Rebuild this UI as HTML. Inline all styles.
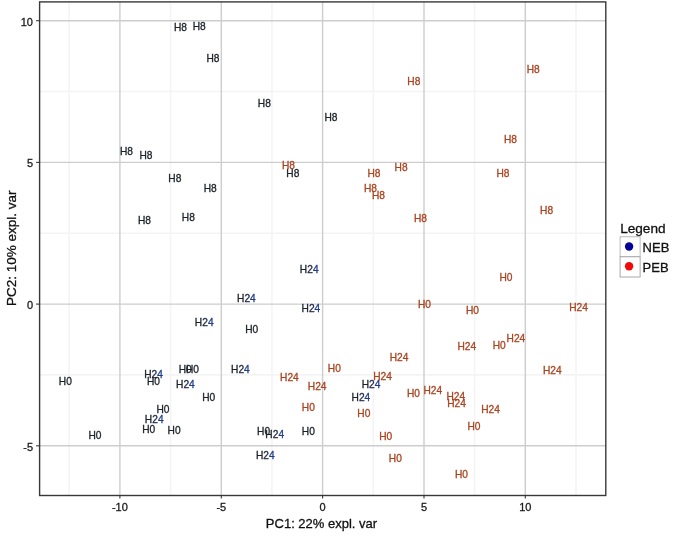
<!DOCTYPE html>
<html><head><meta charset="utf-8"><title>PCA</title>
<style>
html,body{margin:0;padding:0;background:#fff;}
svg{display:block;font-family:"Liberation Sans",Arial,sans-serif;}
</style></head><body>
<svg width="675" height="537" viewBox="0 0 675 537">
<rect width="675" height="537" fill="#fff"/>
<g stroke="#f4f4f4" stroke-width="1.6"><line x1="69.2" y1="1.9" x2="69.2" y2="495.5"/><line x1="170.6" y1="1.9" x2="170.6" y2="495.5"/><line x1="271.9" y1="1.9" x2="271.9" y2="495.5"/><line x1="373.3" y1="1.9" x2="373.3" y2="495.5"/><line x1="474.6" y1="1.9" x2="474.6" y2="495.5"/><line x1="576.0" y1="1.9" x2="576.0" y2="495.5"/><line x1="39.6" y1="374.9" x2="605.8" y2="374.9"/><line x1="39.6" y1="233.2" x2="605.8" y2="233.2"/><line x1="39.6" y1="91.5" x2="605.8" y2="91.5"/></g>
<g stroke="#cdcdcd" stroke-width="1.4"><line x1="119.9" y1="1.9" x2="119.9" y2="495.5"/><line x1="221.3" y1="1.9" x2="221.3" y2="495.5"/><line x1="322.6" y1="1.9" x2="322.6" y2="495.5"/><line x1="424.0" y1="1.9" x2="424.0" y2="495.5"/><line x1="525.3" y1="1.9" x2="525.3" y2="495.5"/><line x1="39.6" y1="445.8" x2="605.8" y2="445.8"/><line x1="39.6" y1="304.1" x2="605.8" y2="304.1"/><line x1="39.6" y1="162.4" x2="605.8" y2="162.4"/><line x1="39.6" y1="20.7" x2="605.8" y2="20.7"/></g>
<g fill="#1c2229" stroke="#1c2229" stroke-width="0.3" font-size="10.2" text-anchor="middle"><text x="180.5" y="30.90">H8</text><text x="199.2" y="29.90">H8</text><text x="213.0" y="61.70">H8</text><text x="264.3" y="107.20">H8</text><text x="330.9" y="121.30">H8</text><text x="126.5" y="155.20">H8</text><text x="145.9" y="158.80">H8</text><text x="174.8" y="181.60">H8</text><text x="210.2" y="191.90">H8</text><text x="292.8" y="176.90">H8</text><text x="144.4" y="223.90">H8</text><text x="188.3" y="221.20">H8</text><text x="309.2" y="273.20">H<tspan fill="#242b48" stroke="#242b48">2</tspan><tspan fill="#1f3c8c" stroke="#1f3c8c">4</tspan></text><text x="246.4" y="301.50">H<tspan fill="#242b48" stroke="#242b48">2</tspan><tspan fill="#1f3c8c" stroke="#1f3c8c">4</tspan></text><text x="310.9" y="312.30">H<tspan fill="#242b48" stroke="#242b48">2</tspan><tspan fill="#1f3c8c" stroke="#1f3c8c">4</tspan></text><text x="204.2" y="326.20">H<tspan fill="#242b48" stroke="#242b48">2</tspan><tspan fill="#1f3c8c" stroke="#1f3c8c">4</tspan></text><text x="251.7" y="333.10">H0</text><text x="65.3" y="384.80">H0</text><text x="94.9" y="438.90">H0</text><text x="153.5" y="377.80">H<tspan fill="#242b48" stroke="#242b48">2</tspan><tspan fill="#1f3c8c" stroke="#1f3c8c">4</tspan></text><text x="153.4" y="385.10">H0</text><text x="185.2" y="373.30">H0</text><text x="192.5" y="373.30">H0</text><text x="185.4" y="387.90">H<tspan fill="#242b48" stroke="#242b48">2</tspan><tspan fill="#1f3c8c" stroke="#1f3c8c">4</tspan></text><text x="162.9" y="413.10">H0</text><text x="154.2" y="422.90">H<tspan fill="#242b48" stroke="#242b48">2</tspan><tspan fill="#1f3c8c" stroke="#1f3c8c">4</tspan></text><text x="148.7" y="433.10">H0</text><text x="174.1" y="433.90">H0</text><text x="208.7" y="401.40">H0</text><text x="240.4" y="373.20">H<tspan fill="#242b48" stroke="#242b48">2</tspan><tspan fill="#1f3c8c" stroke="#1f3c8c">4</tspan></text><text x="263.6" y="434.80">H0</text><text x="274.7" y="437.80">H<tspan fill="#242b48" stroke="#242b48">2</tspan><tspan fill="#1f3c8c" stroke="#1f3c8c">4</tspan></text><text x="308.3" y="434.80">H0</text><text x="265.3" y="458.90">H<tspan fill="#242b48" stroke="#242b48">2</tspan><tspan fill="#1f3c8c" stroke="#1f3c8c">4</tspan></text><text x="371.0" y="387.70">H<tspan fill="#242b48" stroke="#242b48">2</tspan><tspan fill="#1f3c8c" stroke="#1f3c8c">4</tspan></text><text x="360.9" y="401.20">H<tspan fill="#242b48" stroke="#242b48">2</tspan><tspan fill="#1f3c8c" stroke="#1f3c8c">4</tspan></text></g>
<g fill="#aa4420" stroke="#aa4420" stroke-width="0.3" font-size="10.2" text-anchor="middle"><text x="533.2" y="72.90">H8</text><text x="413.8" y="85.00">H8</text><text x="510.5" y="143.30">H8</text><text x="288.4" y="168.50">H8</text><text x="401.1" y="170.80">H8</text><text x="374.0" y="176.70">H8</text><text x="370.4" y="192.40">H8</text><text x="378.4" y="198.60">H8</text><text x="420.4" y="222.30">H8</text><text x="502.9" y="176.70">H8</text><text x="546.6" y="214.00">H8</text><text x="506.0" y="281.30">H0</text><text x="424.5" y="308.00">H0</text><text x="472.4" y="314.30">H0</text><text x="466.8" y="349.70">H24</text><text x="499.2" y="348.90">H0</text><text x="515.9" y="342.20">H24</text><text x="578.5" y="310.90">H24</text><text x="552.3" y="374.20">H24</text><text x="334.3" y="371.80">H0</text><text x="399.0" y="360.90">H24</text><text x="382.6" y="380.20">H24</text><text x="289.4" y="380.50">H24</text><text x="317.2" y="389.70">H24</text><text x="308.3" y="410.80">H0</text><text x="413.5" y="396.90">H0</text><text x="363.8" y="417.20">H0</text><text x="385.7" y="440.40">H0</text><text x="395.3" y="461.70">H0</text><text x="432.8" y="393.90">H24</text><text x="455.8" y="400.20">H24</text><text x="456.6" y="407.00">H24</text><text x="490.5" y="413.30">H24</text><text x="473.9" y="429.50">H0</text><text x="461.5" y="477.90">H0</text></g>
<rect x="39.6" y="1.9" width="566.2" height="493.6" fill="none" stroke="#383838" stroke-width="1.4"/>
<g stroke="#383838" stroke-width="1.1"><line x1="119.9" y1="495.5" x2="119.9" y2="498.5"/><line x1="221.3" y1="495.5" x2="221.3" y2="498.5"/><line x1="322.6" y1="495.5" x2="322.6" y2="498.5"/><line x1="424.0" y1="495.5" x2="424.0" y2="498.5"/><line x1="525.3" y1="495.5" x2="525.3" y2="498.5"/><line x1="36.1" y1="445.8" x2="39.6" y2="445.8"/><line x1="36.1" y1="304.1" x2="39.6" y2="304.1"/><line x1="36.1" y1="162.4" x2="39.6" y2="162.4"/><line x1="36.1" y1="20.7" x2="39.6" y2="20.7"/></g>
<g fill="#1a1a1a" stroke="#1a1a1a" stroke-width="0.3" font-size="11"><text x="119.9" y="510.9" text-anchor="middle">-10</text><text x="221.3" y="510.9" text-anchor="middle">-5</text><text x="322.6" y="510.9" text-anchor="middle">0</text><text x="424.0" y="510.9" text-anchor="middle">5</text><text x="525.3" y="510.9" text-anchor="middle">10</text><text x="33.0" y="450.6" text-anchor="end">-5</text><text x="33.0" y="308.9" text-anchor="end">0</text><text x="33.0" y="167.2" text-anchor="end">5</text><text x="33.0" y="25.5" text-anchor="end">10</text></g>
<text x="321.5" y="527.8" font-size="13" fill="#111" stroke="#111" stroke-width="0.3" text-anchor="middle">PC1: 22% expl. var</text>
<text transform="translate(15.8,248.3) rotate(-90)" font-size="13.5" fill="#111" stroke="#111" stroke-width="0.3" text-anchor="middle">PC2: 10% expl. var</text>
<text x="620.2" y="233.3" font-size="13.6" fill="#111" stroke="#111" stroke-width="0.3">Legend</text>
<rect x="620.1" y="236.8" width="20" height="20" fill="#fff" stroke="#a8a8a8" stroke-width="0.8"/>
<rect x="620.1" y="256.8" width="20" height="20.2" fill="#fff" stroke="#a0a0a0" stroke-width="0.9"/>
<circle cx="629.1" cy="246.5" r="4.2" fill="#04049a"/>
<circle cx="629.1" cy="266.3" r="4.2" fill="#f00a0a"/>
<text x="642.6" y="251.9" font-size="13" fill="#111" stroke="#111" stroke-width="0.3">NEB</text>
<text x="642.6" y="271.9" font-size="13" fill="#111" stroke="#111" stroke-width="0.3">PEB</text>
</svg>
</body></html>
